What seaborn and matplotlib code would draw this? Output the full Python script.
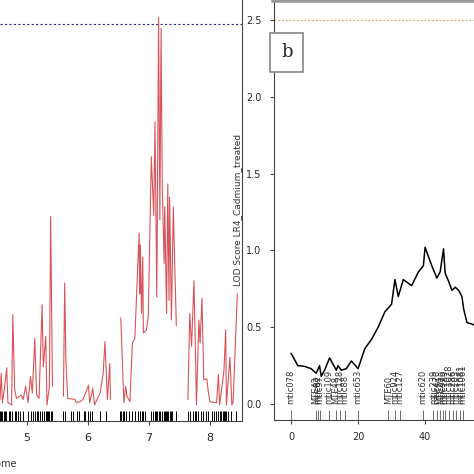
import numpy as np
import pandas as pd
import seaborn as sns
import matplotlib.pyplot as plt

sns.set_style("white")

# ---- left panel (a): LOD along chromosomes 4.5-8.5 ----
pos_a = [4.56, 4.58, 4.60, 4.63, 4.67, 4.69, 4.75, 4.77, 4.80, 4.83, 4.91, 4.94, 4.98, 5.02,
         5.06, 5.09, 5.13, 5.16, 5.20, 5.25, 5.27, 5.31, 5.33, 5.37, 5.39, 5.42,
         5.60, 5.62, 5.64, 5.67, 5.79, 5.81, 5.87, 5.92, 6.01, 6.03, 6.08, 6.11, 6.20, 6.25,
         6.28, 6.32, 6.36, 6.37,
         6.54, 6.59, 6.62, 6.64, 6.69, 6.73, 6.77, 6.84, 6.85, 6.86, 6.88, 6.90, 6.91, 6.96,
         6.99, 7.04, 7.08, 7.10, 7.13, 7.16, 7.18, 7.20, 7.22, 7.25, 7.26, 7.29, 7.31, 7.33,
         7.34, 7.37, 7.40, 7.45,
         7.64, 7.67, 7.70, 7.74, 7.78, 7.82, 7.84, 7.87, 7.90, 7.95, 7.97, 8.00, 8.11, 8.14,
         8.16, 8.23, 8.26, 8.27, 8.33, 8.36, 8.38, 8.45]
lod_a = [0.05, 0.29, 0.02, 0.14, 0.34, 0.02, 0.00, 0.83, 0.14, 0.06, 0.09, 0.05, 0.17, 0.02,
         0.26, 0.11, 0.61, 0.09, 0.06, 0.92, 0.35, 0.63, 0.00, 0.17, 1.73, 0.17,
         0.08, 1.12, 0.41, 0.06, 0.05, 0.02, 0.03, 0.05, 0.18, 0.02, 0.15, 0.00, 0.11, 0.28,
         0.58, 0.05, 0.38, 0.05,
         0.80, 0.02, 0.17, 0.08, 0.03, 0.57, 0.61, 1.58, 1.02, 1.47, 0.84, 1.36, 0.66, 0.69,
         0.81, 2.28, 1.74, 2.60, 0.99, 3.56, 1.70, 3.46, 2.00, 1.30, 1.82, 0.84, 2.03, 0.96,
         1.91, 0.78, 1.82, 0.73,
         0.05, 0.84, 0.54, 1.14, 0.00, 0.78, 0.57, 0.98, 0.23, 0.24, 0.14, 0.03, 0.02, 0.28,
         0.00, 0.31, 0.69, 0.00, 0.44, 0.00, 0.02, 1.02]
seg_a = [0] * 26 + [1] * 18 + [2] * 32 + [3] * 22
threshold_a = 3.5
rug_a = [4.56, 4.58, 4.60, 4.62, 4.64, 4.66, 4.70, 4.72, 4.76, 4.80, 4.82, 4.85, 4.88,
         4.93, 5.02, 5.07, 5.10, 5.13, 5.16, 5.19, 5.22, 5.25, 5.28, 5.31, 5.33, 5.35, 5.37,
         5.39, 5.41, 5.60, 5.63, 5.72, 5.76, 5.82, 5.85, 5.93, 5.96, 6.00, 6.04, 6.06, 6.20,
         6.30, 6.52, 6.55, 6.57, 6.59, 6.62, 6.67, 6.72, 6.78, 6.83, 6.85, 6.86, 6.88, 6.90,
         6.94, 7.03, 7.07, 7.10, 7.12, 7.14, 7.17, 7.19, 7.21, 7.24, 7.26, 7.28, 7.30, 7.32,
         7.34, 7.36, 7.38, 7.44, 7.64, 7.68, 7.72, 7.75, 7.78, 7.81, 7.85, 7.88, 7.94, 7.97,
         8.03, 8.06, 8.10, 8.13, 8.16, 8.19, 8.21, 8.23, 8.25, 8.27, 8.30, 8.35, 8.42]

# ---- right panel (b): LR4 cadmium treated ----
pos_b = [0, 2, 4, 6, 7.5, 8.5, 9, 10, 11.5, 12.5, 13.5, 14, 15, 16.5, 18, 20, 22, 24, 26,
         28, 30, 31, 32, 33.5, 36, 38, 39.5, 40, 42, 43.5, 44.5, 45.5, 46, 47, 48, 49, 50,
         51, 51.5, 52.5, 54, 55]
lod_b = [0.33, 0.25, 0.245, 0.23, 0.20, 0.25, 0.18, 0.22, 0.30, 0.26, 0.22, 0.25, 0.22,
         0.23, 0.28, 0.23, 0.36, 0.42, 0.50, 0.60, 0.65, 0.81, 0.70, 0.81, 0.77, 0.86, 0.90,
         1.02, 0.90, 0.82, 0.86, 1.01, 0.85, 0.80, 0.74, 0.76, 0.74, 0.70, 0.62, 0.53, 0.52,
         0.51]
threshold_b = 2.5
markers_b = ["mtic078", "MTE42", "mtic82", "mtic97", "mtic109", "MTE48", "mtic128",
             "mtic88", "mtic653", "MTE60", "mtic924", "mtic127", "mtic620", "mtic239",
             "mtic470", "MTE29", "mtic979", "mtic189", "mtic1028", "mtic286", "mtic103",
             "mtic1081", "mtic1061"]
marker_pos_b = [0, 7.3, 8.0, 8.7, 11.3, 13.3, 14.5, 16.0, 20.0, 29.0, 31.0, 32.5, 39.3,
                42.5, 43.5, 44.5, 45.2, 46.0, 47.0, 48.2, 49.3, 50.5, 51.2]

df_a = pd.DataFrame({"pos": pos_a, "lod": lod_a, "seg": seg_a})
df_b = pd.DataFrame({"pos": pos_b, "lod": lod_b})

fig = plt.figure(figsize=(4.74, 4.74), dpi=100)

ax1 = fig.add_axes([0.0, 0.112, 0.511, 0.888])
sns.lineplot(data=df_a, x="pos", y="lod", units="seg", estimator=None, color="#d9545a",
             lw=0.8, ax=ax1)
ax1.axhline(threshold_a, color="#2b2b8a", ls=(0, (2, 2)), lw=0.8)
ax1.vlines(rug_a, 0, 0.024, transform=ax1.get_xaxis_transform(), color="black", lw=0.7)
ax1.set_xlim(4.56, 8.53)
ax1.set_ylim(-0.147, 3.72)
ax1.set_xticks([5, 6, 7, 8])
ax1.set_yticks([])
ax1.set_xlabel("")
ax1.set_ylabel("")
ax1.tick_params(axis="x", length=3, labelsize=8, pad=6, color="#444444", bottom=True)
ax1.spines["left"].set_visible(False)
ax1.spines["top"].set_visible(False)
for s in ["bottom", "right"]:
    ax1.spines[s].set_color("#444444")
fig.text(0.036, 0.015, "Chromosome", ha="right", fontsize=7, color="#333333")

ax2 = fig.add_axes([0.578, 0.114, 0.422, 0.886])
sns.lineplot(data=df_b, x="pos", y="lod", color="black", lw=1.1, ax=ax2)
ax2.axhline(threshold_b, color="#c8b86a", ls=(0, (1.5, 1.5)), lw=0.9)
ax2.vlines(marker_pos_b, 0, 0.024, transform=ax2.get_xaxis_transform(), color="#555555",
           lw=0.6)
for name, p in zip(markers_b, marker_pos_b):
    ax2.text(p, 0.0, name, rotation=90, ha="center", va="bottom", fontsize=6,
             color="#333333")
ax2.set_xlim(-5.1, 54.6)
ax2.set_ylim(-0.104, 2.63)
ax2.set_xticks([0, 20, 40])
ax2.set_yticks([0.0, 0.5, 1.0, 1.5, 2.0, 2.5])
ax2.set_yticklabels(["0.0", "0.5", "1.0", "1.5", "2.0", "2.5"])
ax2.tick_params(labelsize=7, length=3, pad=6, color="#444444", left=True, bottom=True)
ax2.set_xlabel("")
ax2.set_ylabel("LOD Score LR4_Cadmium_treated", fontsize=6.5, color="#333333", labelpad=3)
ax2.spines["right"].set_visible(False)
ax2.spines["top"].set_color("#999999")
ax2.spines["top"].set_linewidth(4)
for s in ["bottom", "left"]:
    ax2.spines[s].set_color("#444444")
ax2.text(0.035, 0.875, "b", transform=ax2.transAxes, fontsize=13, family="DejaVu Serif",
         ha="left", va="center",
         bbox=dict(boxstyle="square,pad=0.6", fc="white", ec="#888888", lw=1.2))

fig.savefig("out.png", dpi=100)
